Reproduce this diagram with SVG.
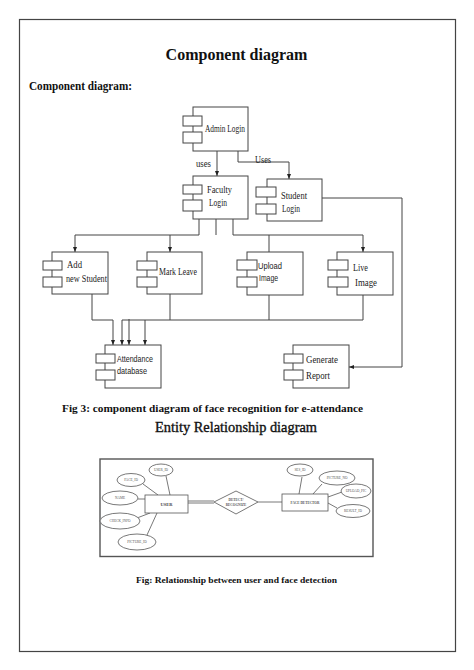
<svg xmlns="http://www.w3.org/2000/svg" width="474" height="670" viewBox="0 0 474 670">
<defs>
<marker id="arr" viewBox="0 0 10 10" refX="10" refY="5" markerWidth="5" markerHeight="5" markerUnits="userSpaceOnUse" orient="auto">
<path d="M0,1 L10,5 L0,9 z" fill="#222"/>
</marker>
<style>
.page{fill:#fff;stroke:#444;stroke-width:1.2}
.box{fill:#fff;stroke:#444;stroke-width:1}
.port{fill:#fff;stroke:#444;stroke-width:1}
.cn{fill:none;stroke:#444;stroke-width:1}
.ser{font-family:"Liberation Serif",serif;font-size:9.5px;fill:#222}
.san{font-family:"Liberation Sans",sans-serif;font-size:9px;fill:#222}
.h1{font-family:"Liberation Serif",serif;font-weight:bold;fill:#111}
.h2{font-family:"Liberation Serif",serif;fill:#111;stroke:#111;stroke-width:0.35}
.cap{font-family:"Liberation Serif",serif;font-weight:bold;fill:#111}
.er{fill:#fff;stroke:#555;stroke-width:0.8}
.erl{fill:none;stroke:#555;stroke-width:0.8}
.ert{font-family:"Liberation Serif",serif;font-size:3.4px;fill:#555;text-anchor:middle}
.erb{font-family:"Liberation Serif",serif;font-size:4.5px;font-weight:bold;fill:#444;text-anchor:middle}
</style>
</defs>
<rect x="0" y="0" width="474" height="670" fill="#fff"/>
<rect class="page" x="19.5" y="19.5" width="436" height="632"/>

<text class="h1" x="236.5" y="60" font-size="16" text-anchor="middle">Component diagram</text>
<text class="h1" x="29" y="90" font-size="12" textLength="103" lengthAdjust="spacingAndGlyphs">Component diagram:</text>

<g id="connectors">
<path class="cn" d="M217,151 V176" marker-end="url(#arr)"/>
<path class="cn" d="M238,151 V162 H289 V179" marker-end="url(#arr)"/>
<path class="cn" d="M199,219 V235 H75 V252" marker-end="url(#arr)"/>
<path class="cn" d="M170,235 V252" marker-end="url(#arr)"/>
<path class="cn" d="M216,219 V235"/>
<path class="cn" d="M233,219 V235 H363 V252" marker-end="url(#arr)"/>
<path class="cn" d="M269,235 V252"/>
<path class="cn" d="M322,198 H402 V367 H349" marker-end="url(#arr)"/>
<path class="cn" d="M92,294 V320 H113 V345" marker-end="url(#arr)"/>
<path class="cn" d="M122,320 H363"/>
<path class="cn" d="M170,294 V320"/>
<path class="cn" d="M269,295 V320"/>
<path class="cn" d="M363,295 V320"/>
<path class="cn" d="M122,320 V345" marker-end="url(#arr)"/>
<path class="cn" d="M129,319 V345" marker-end="url(#arr)"/>
<path class="cn" d="M145,320 V345" marker-end="url(#arr)"/>
<text class="ser" x="196" y="167" textLength="15" lengthAdjust="spacingAndGlyphs">uses</text>
<text class="ser" x="255" y="163" textLength="16" lengthAdjust="spacingAndGlyphs">Uses</text>
</g>

<g id="admin-login">
<rect class="box" x="193" y="107" width="55" height="44"/>
<rect class="port" x="183" y="116" width="19" height="10"/>
<rect class="port" x="183" y="132" width="19" height="11"/>
<text class="ser" x="205" y="132" textLength="40" lengthAdjust="spacingAndGlyphs">Admin Login</text>
</g>

<g id="faculty-login">
<rect class="box" x="193" y="176" width="55" height="43"/>
<rect class="port" x="183" y="185" width="19" height="9"/>
<rect class="port" x="183" y="200" width="19" height="11"/>
<text class="ser" x="207" y="193" textLength="25" lengthAdjust="spacingAndGlyphs">Faculty</text>
<text class="ser" x="209" y="206" textLength="18" lengthAdjust="spacingAndGlyphs">Login</text>
</g>

<g id="student-login">
<rect class="box" x="267" y="179" width="55" height="42"/>
<rect class="port" x="256" y="187" width="20" height="10"/>
<rect class="port" x="256" y="204" width="20" height="10"/>
<text class="ser" x="281" y="199" textLength="26" lengthAdjust="spacingAndGlyphs">Student</text>
<text class="ser" x="282" y="212" textLength="18" lengthAdjust="spacingAndGlyphs">Login</text>
</g>

<g id="add-new-student">
<rect class="box" x="52" y="252" width="56" height="42"/>
<rect class="port" x="43" y="261" width="19" height="9"/>
<rect class="port" x="43" y="277" width="19" height="10"/>
<text class="ser" x="67" y="268" textLength="15" lengthAdjust="spacingAndGlyphs">Add</text>
<text class="ser" x="66" y="282" textLength="41" lengthAdjust="spacingAndGlyphs">new Student</text>
</g>

<g id="mark-leave">
<rect class="box" x="147" y="252" width="55" height="42"/>
<rect class="port" x="137" y="261" width="20" height="9"/>
<rect class="port" x="137" y="277" width="20" height="10"/>
<text class="ser" x="159" y="275" textLength="38" lengthAdjust="spacingAndGlyphs">Mark Leave</text>
</g>

<g id="upload-image">
<rect class="box" x="247" y="252" width="56" height="43"/>
<rect class="port" x="237" y="260" width="20" height="10"/>
<rect class="port" x="237" y="277" width="20" height="10"/>
<text class="san" x="258" y="269" textLength="24" lengthAdjust="spacingAndGlyphs">Upload</text>
<text class="san" x="259" y="281" textLength="19" lengthAdjust="spacingAndGlyphs">Image</text>
</g>

<g id="live-image">
<rect class="box" x="337" y="252" width="56" height="43"/>
<rect class="port" x="328" y="260" width="20" height="10"/>
<rect class="port" x="328" y="277" width="20" height="10"/>
<text class="ser" x="353" y="271" font-size="11" textLength="15" lengthAdjust="spacingAndGlyphs">Live</text>
<text class="ser" x="355" y="286" font-size="11" textLength="22" lengthAdjust="spacingAndGlyphs">Image</text>
</g>

<g id="attendance-database">
<rect class="box" x="105" y="345" width="56" height="43"/>
<rect class="port" x="96" y="354" width="19" height="9"/>
<rect class="port" x="96" y="370" width="19" height="10"/>
<text class="san" x="117" y="362" textLength="36" lengthAdjust="spacingAndGlyphs">Attendance</text>
<text class="san" x="117" y="374" textLength="30" lengthAdjust="spacingAndGlyphs">database</text>
</g>

<g id="generate-report">
<rect class="box" x="293" y="345" width="56" height="43"/>
<rect class="port" x="284" y="354" width="19" height="9"/>
<rect class="port" x="284" y="370" width="19" height="10"/>
<text class="ser" x="306" y="363" font-size="10.5" textLength="32" lengthAdjust="spacingAndGlyphs">Generate</text>
<text class="ser" x="306" y="379" font-size="10.5" textLength="24" lengthAdjust="spacingAndGlyphs">Report</text>
</g>

<text class="cap" x="62" y="412" font-size="11" textLength="301" lengthAdjust="spacingAndGlyphs">Fig 3: component diagram of face recognition for e-attendance</text>
<text class="h2" x="155" y="432" font-size="14" textLength="162" lengthAdjust="spacingAndGlyphs">Entity Relationship diagram</text>

<g id="er-frame">
<rect x="100" y="459" width="273" height="97.5" fill="none" stroke="#555" stroke-width="1.4"/>
</g>

<g id="er-connectors">
<line class="erl" x1="166" y1="476" x2="170" y2="495"/>
<line class="erl" x1="143" y1="484" x2="158" y2="495"/>
<line class="erl" x1="138" y1="499" x2="145" y2="499"/>
<line class="erl" x1="137" y1="518" x2="150" y2="513"/>
<line class="erl" x1="147" y1="535" x2="157" y2="513"/>
<line class="erl" x1="188" y1="501" x2="214" y2="501"/>
<line class="erl" x1="188" y1="503" x2="214" y2="503"/>
<line class="erl" x1="258" y1="502" x2="282" y2="502"/>
<line class="erl" x1="302" y1="477" x2="299" y2="494"/>
<line class="erl" x1="322" y1="484" x2="313" y2="494"/>
<line class="erl" x1="328" y1="497" x2="342" y2="492"/>
<line class="erl" x1="328" y1="503" x2="337" y2="508"/>
</g>

<g id="user">
<rect class="er" x="145" y="495" width="43" height="18"/>
<text class="erb" x="166.5" y="505.5">USER</text>
</g>
<g id="detect-recognize">
<polygon class="er" points="214,502 236,491 258,502 236,514"/>
<text class="ert" x="236" y="500.5" font-weight="bold">DETECT/</text>
<text class="ert" x="236" y="505.5" font-weight="bold">RECOGNIZE</text>
</g>
<g id="face-detector">
<rect class="er" x="282" y="494" width="46" height="17"/>
<text class="ert" x="305" y="504" font-size="4" font-weight="bold">FACE DETECTOR</text>
</g>

<g id="user-id"><ellipse class="er" cx="161" cy="470" rx="12" ry="6"/><text class="ert" x="161" y="471.2">USER_ID</text></g>
<g id="face-id"><ellipse class="er" cx="131" cy="480" rx="14" ry="6.5"/><text class="ert" x="131" y="481.2">FACE_ID</text></g>
<g id="name"><ellipse class="er" cx="120" cy="498" rx="18" ry="7"/><text class="ert" x="120" y="499.2">NAME</text></g>
<g id="check-info"><ellipse class="er" cx="120" cy="521" rx="20" ry="8"/><text class="ert" x="120" y="522.2">CHECK_INFO</text></g>
<g id="picture-id"><ellipse class="er" cx="137" cy="542" rx="19" ry="8"/><text class="ert" x="137" y="543.2">PICTURE_ID</text></g>
<g id="ses-id"><ellipse class="er" cx="300" cy="470" rx="13" ry="6"/><text class="ert" x="300" y="471.2">SES_ID</text></g>
<g id="picture-no"><ellipse class="er" cx="337" cy="478" rx="18" ry="7"/><text class="ert" x="337" y="479.2">PICTURE_NO</text></g>
<g id="upload-pic"><ellipse class="er" cx="356" cy="491" rx="15" ry="7"/><text class="ert" x="356" y="492.2">UPLOAD_PIC</text></g>
<g id="result-id"><ellipse class="er" cx="353" cy="511" rx="17" ry="6.5"/><text class="ert" x="353" y="512.2">RESULT_ID</text></g>

<text class="cap" x="136" y="583" font-size="9" textLength="201" lengthAdjust="spacingAndGlyphs">Fig: Relationship between user and face detection</text>
</svg>
